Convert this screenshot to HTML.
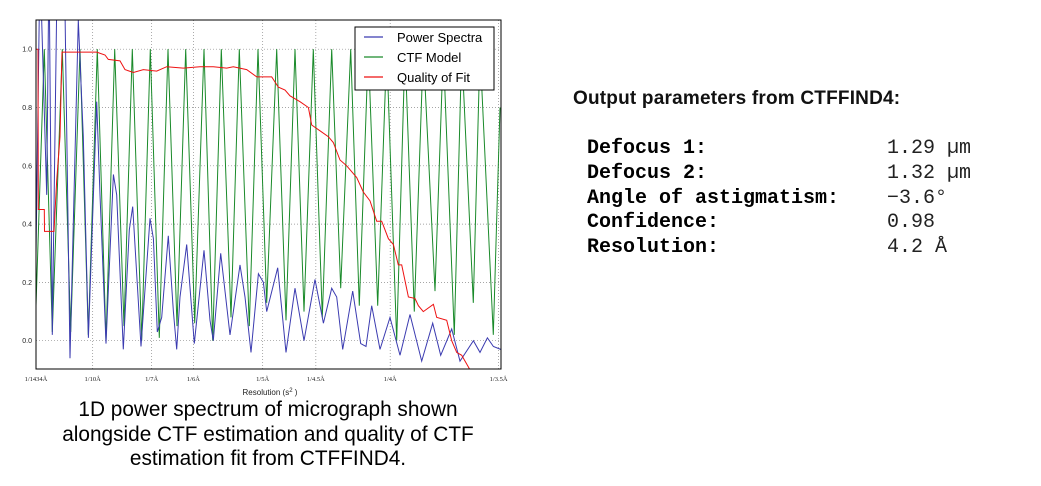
<!DOCTYPE html>
<html><head><meta charset="utf-8"><style>
body{margin:0;width:1041px;height:486px;background:#fff;overflow:hidden;position:relative;font-family:"Liberation Sans",sans-serif}
.cap{position:absolute;left:0px;width:536px;top:398px;text-align:center;font-size:20.8px;line-height:24.5px;color:#000}
.ttl{position:absolute;left:573px;top:88px;font-size:19px;font-weight:bold;color:#111;letter-spacing:0.2px}
.params{position:absolute;left:587px;top:137px;font-family:"Liberation Mono",monospace;font-size:20px;line-height:24.8px}
.row{position:relative;height:24.8px;white-space:pre}
.lab{font-weight:bold}
.val{position:absolute;left:300px;top:0;color:#222}
</style></head><body>
<svg width="540" height="400" style="position:absolute;left:0;top:0" font-family="Liberation Sans, sans-serif">
<defs><clipPath id="pc"><rect x="36" y="20" width="465" height="349"/></clipPath></defs>
<g id="grid"></g>
<g id="series" clip-path="url(#pc)"></g>
<rect x="36" y="20" width="465" height="349" fill="none" stroke="#000" stroke-width="1"/>
<g id="ticks"></g>
<text x="270" y="395" font-size="8" text-anchor="middle" fill="#222">Resolution (s<tspan font-size="6" dy="-3">2</tspan><tspan dy="3"> )</tspan></text>
<g>
<rect x="355" y="27" width="139" height="63" fill="#fff" stroke="#000" stroke-width="1"/>
<line x1="364" y1="37" x2="383" y2="37" stroke="#3b3bb0" stroke-width="1.2"/>
<text x="397" y="42" font-size="13">Power Spectra</text>
<line x1="364" y1="57" x2="383" y2="57" stroke="#1a8a2a" stroke-width="1.2"/>
<text x="397" y="62" font-size="13">CTF Model</text>
<line x1="364" y1="77" x2="383" y2="77" stroke="#ee1111" stroke-width="1.2"/>
<text x="397" y="82" font-size="13">Quality of Fit</text>
</g>
</svg>
<div class="cap">1D power spectrum of micrograph shown<br>alongside CTF estimation and quality of CTF<br>estimation fit from CTFFIND4.</div>
<div class="ttl">Output parameters from CTFFIND4:</div>
<div class="params">
<div class="row"><span class="lab">Defocus 1:</span><span class="val">1.29 µm</span></div>
<div class="row"><span class="lab">Defocus 2:</span><span class="val">1.32 µm</span></div>
<div class="row"><span class="lab">Angle of astigmatism:</span><span class="val">−3.6°</span></div>
<div class="row"><span class="lab">Confidence:</span><span class="val">0.98</span></div>
<div class="row"><span class="lab">Resolution:</span><span class="val">4.2 Å</span></div>
</div>
<script>
// x in units of 1e-3 Å^-2 (s²)
const yTicks=[0.0,0.2,0.4,0.6,0.8,1.0];
const xTickVals=[0,10,20.41,27.78,40,49.38,62.5,81.63];
const xTickLabels=["1/1434Å","1/10Å","1/7Å","1/6Å","1/5Å","1/4.5Å","1/4Å","1/3.5Å"];
const ctfX=[0,1.46,2.88,4.64,6.12,7.76,9.23,10.82,12.35,13.89,15.53,16.99,18.65,20.17,21.76,23.29,24.88,26.42,28.0,29.65,31.18,32.70,34.41,35.87,37.64,39.17,40.71,42.47,44.12,45.70,47.29,48.93,50.52,52.18,53.77,55.53,57.05,58.64,60.30,61.89,63.65,65.11,66.76,68.34,70.41,71.87,73.81,75.12,77.17,78.35,80.70,81.88];
const ctfY=[0.12,1,0.03,1,0.03,1,0.02,1,0.0,1,0.05,1,0.0,1,0.01,1,0.05,1,0.06,1,0.0,1,0.08,1,0.05,1,0.13,1,0.07,1,0.10,1,0.08,1,0.18,1,0.12,1,0.12,1,0.0,1,0.10,1,0.17,1,0.02,1,0.13,1,0.02,0.8];
const psX=[0,0.71,1.88,2.29,2.88,3.76,5.0,6.0,7.47,8.35,9.24,10.71,11.29,12.35,13.65,14.24,15.41,16.47,17.06,18.53,20.12,20.71,21.41,22.18,23.35,24.24,24.82,25.41,26.59,27.94,29.65,30.71,31.29,32.59,34.24,36.0,36.88,37.94,39.24,40.12,40.71,42.65,44.12,45.71,47.29,49.24,50.71,52.18,53.06,54.12,55.88,57.29,58.24,59.24,60.71,62.47,64.24,66.0,68.06,70.0,71.41,73.35,74.82,77.18,78.35,79.65,80.71,82.0];
const psY=[0.3,1.3,0.5,1.3,0.02,1.3,1.3,-0.06,1.1,0.7,0.01,0.82,0.5,-0.01,0.57,0.5,-0.03,0.38,0.46,-0.02,0.42,0.35,0.03,0.08,0.36,0.1,-0.03,0.15,0.33,-0.01,0.31,0.07,0.0,0.3,0.02,0.26,0.15,-0.04,0.23,0.2,0.1,0.25,-0.04,0.18,0.0,0.21,0.06,0.18,0.15,-0.03,0.17,-0.01,-0.02,0.12,-0.03,0.08,-0.05,0.09,-0.07,0.06,-0.05,0.04,-0.07,0.0,-0.04,0.01,-0.02,-0.03];
const qfX=[0,0.35,0.41,1.47,1.5,3.18,3.65,4.24,4.59,8.35,10.71,12.18,12.76,14.82,15.71,17.18,18.94,21.29,23.06,26.0,28.94,31.29,33.65,34.82,37.18,38.94,41.59,42.76,43.94,44.82,46.59,48.06,48.65,50.12,51.59,52.47,53.65,54.82,56.59,57.76,58.94,60.12,61.0,62.18,63.06,63.94,64.53,65.71,66.88,67.47,68.35,70.12,70.71,72.47,73.35,74.24,75.12,76.59];
const qfY=[1.0,1.0,0.45,0.45,0.375,0.375,0.55,0.7,0.99,0.99,0.99,0.98,0.965,0.96,0.93,0.92,0.93,0.925,0.94,0.935,0.94,0.94,0.935,0.94,0.93,0.905,0.905,0.87,0.86,0.84,0.82,0.8,0.74,0.72,0.7,0.68,0.62,0.6,0.56,0.51,0.48,0.41,0.41,0.35,0.33,0.26,0.26,0.15,0.145,0.12,0.1,0.125,0.08,0.07,0.0,-0.04,-0.05,-0.1];

const X=v=>36+v*5.667;
const Y=v=>340.7-v*291.5;
const NS="http://www.w3.org/2000/svg";
const grid=document.getElementById('grid'),ticks=document.getElementById('ticks'),series=document.getElementById('series');
function mk(tag,at,parent){const e=document.createElementNS(NS,tag);for(const k in at)e.setAttribute(k,at[k]);parent.appendChild(e);return e;}
yTicks.forEach(t=>{
 const g=mk('line',{x1:36,x2:501,y1:Y(t),y2:Y(t),stroke:'#888','stroke-dasharray':'1,2','stroke-width':0.7},grid);
 
 
 const l=mk('text',{x:32,y:Y(t)+2.5,'font-size':7,'text-anchor':'end',fill:'#222'},ticks);
 l.textContent=t.toFixed(1);
 
 
});
xTickVals.forEach((t,i)=>{
 const g=mk('line',{x1:X(t),x2:X(t),y1:20,y2:369,stroke:'#888','stroke-dasharray':'1,2','stroke-width':0.7},grid);
 
 
 const l=mk('text',{x:X(t),y:381,'font-size':6.5,'text-anchor':'middle',fill:'#222','font-family':'Liberation Serif, serif'},ticks);
 l.textContent=xTickLabels[i];
 
 
});
function line(xs,ys,color,name){
 const p=mk('polyline',{points:xs.map((x,i)=>X(x).toFixed(1)+','+Y(ys[i]).toFixed(1)).join(' '),fill:'none',stroke:color,'stroke-width':1},series);
 
 
}
line(ctfX,ctfY,'#1a8a2a','ctf-model-line');
line(psX,psY,'#3b3bb0','power-spectra-line');
line(qfX,qfY,'#ee1111','quality-of-fit-line');
</script>
</body></html>
